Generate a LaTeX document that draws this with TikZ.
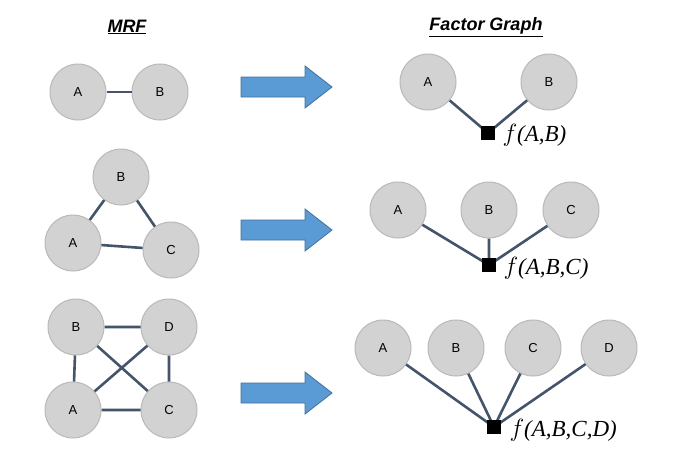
\documentclass[tikz,border=0pt]{standalone}
\usepackage{fontspec}
\setmainfont{Liberation Sans}
\newfontfamily\mathf{Liberation Serif}
\definecolor{edgec}{HTML}{44546A}
\definecolor{arrf}{HTML}{5B9BD5}
\definecolor{arrd}{HTML}{41719C}
\begin{document}
\begin{tikzpicture}[x=1pt,y=-1pt,
  v/.style={circle,draw=gray!55,fill=gray!35,line width=1pt,minimum size=56pt,inner sep=0pt,font=\fontsize{13}{13}\selectfont},
  fa/.style={rectangle,fill=black,minimum size=14pt,inner sep=0pt},
  e/.style={draw=edgec,line width=2.6pt},
  lab/.style={anchor=west,font=\fontsize{23}{23}\selectfont\mathf\itshape},
  ttl/.style={font=\fontsize{18}{18}\selectfont\bfseries\itshape},
  arr/.style={fill=arrf,draw=arrd,line width=0.8pt}]
\useasboundingbox (0,0) rectangle (674,458);
\fill[white] (0,0) rectangle (674,458);
\node[ttl] (t1) at (127,27) {\underline{MRF}};
\node[ttl] (t2) at (486,27) {\underline{Factor Graph}};
\newcommand{\myarrow}[1]{\filldraw[arr] (241,#1-10) -- (305,#1-10) -- (305,#1-21) -- (332,#1) -- (305,#1+21) -- (305,#1+10) -- (241,#1+10) -- cycle;}
\myarrow{87}\myarrow{230}\myarrow{393}
% row 1
\node[v] (a1) at (78,92) {A};
\node[v] (b1) at (160,92) {B};
\draw[e] (a1) -- (b1);
\node[v] (fa1) at (428,82) {A};
\node[v] (fb1) at (549,82) {B};
\node[fa] (f1) at (488,133) {};
\draw[e] (fa1) -- (f1.center) (fb1) -- (f1.center);
\node[fa] at (488,133) {};
\node[lab] (l1) at (499,135) {$f$(A,B)};
% row 2
\node[v] (b2) at (121,177) {B};
\node[v] (a2) at (73,243) {A};
\node[v] (c2) at (171,250) {C};
\draw[e] (b2) -- (a2) (b2) -- (c2) (a2) -- (c2);
\node[v] (fa2) at (398,210) {A};
\node[v] (fb2) at (489,210) {B};
\node[v] (fc2) at (571,210) {C};
\node[fa] (f2) at (489,265) {};
\draw[e] (fa2) -- (f2.center) (fb2) -- (f2.center) (fc2) -- (f2.center);
\node[fa] at (489,265) {};
\node[lab] (l2) at (500,268) {$f$(A,B,C)};
% row 3
\node[v] (b3) at (76,327) {B};
\node[v] (d3) at (169,327) {D};
\node[v] (a3) at (73,410) {A};
\node[v] (c3) at (169,410) {C};
\draw[e] (b3) -- (d3) (a3) -- (c3) (b3) -- (a3) (d3) -- (c3) (b3) -- (c3) (d3) -- (a3);
\node[v] (fa3) at (383,348) {A};
\node[v] (fb3) at (456,348) {B};
\node[v] (fc3) at (533,348) {C};
\node[v] (fd3) at (609,348) {D};
\node[fa] (f3) at (494,427) {};
\draw[e] (fa3) -- (f3.center) (fb3) -- (f3.center) (fc3) -- (f3.center) (fd3) -- (f3.center);
\node[fa] at (494,427) {};
\node[lab] (l3) at (506,430) {$f$(A,B,C,D)};
\end{tikzpicture}
\end{document}
